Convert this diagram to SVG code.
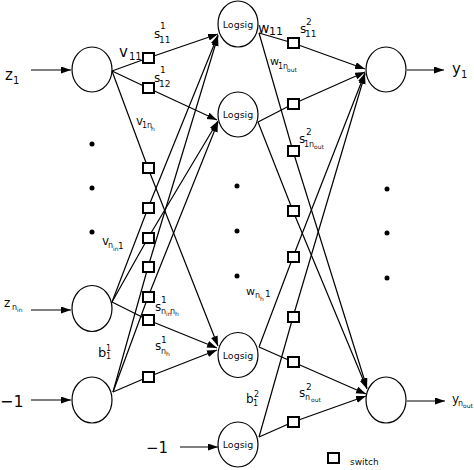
<svg xmlns="http://www.w3.org/2000/svg" width="474" height="470" viewBox="0 0 474 470">
<defs>
<marker id="ah" markerWidth="10" markerHeight="8" refX="10" refY="3.5" orient="auto" markerUnits="userSpaceOnUse">
<path d="M0,0 L10,3.5 L0,7 z" fill="#000"/>
</marker>
<style>
.n{fill:#fff;stroke:#000;stroke-width:1.2}
.c{fill:none;stroke:#000;stroke-width:1.2;marker-end:url(#ah)}
.sw{fill:#fff;stroke:#000;stroke-width:2}
text{font-family:"DejaVu Sans",sans-serif;fill:#000;fill-opacity:0.99}
.lg{font-size:9.5px;text-anchor:middle}
.dot{fill:#000}
</style>
</defs>
<rect width="474" height="470" fill="#fff"/>
<g id="connectors">
<path class="c" d="M112,71 L148,58 L218,34"/>
<path class="c" d="M112,71 L148,88 L217,120"/>
<path class="c" d="M112,71 L148,168 L218,346"/>
<path class="c" d="M112,302 L148,208 L218,35"/>
<path class="c" d="M112,302 L148,238 L218,121"/>
<path class="c" d="M112,302 L148,320 L217,348"/>
<path class="c" d="M113,392 L148,267 L218,36"/>
<path class="c" d="M113,392 L148,297 L218,122"/>
<path class="c" d="M113,392 L148,377 L217,350"/>
<path class="c" d="M259,33 L293,43 L365,69"/>
<path class="c" d="M258,122 L293,104 L365,72"/>
<path class="c" d="M259,33 L293,151 L367,388"/>
<path class="c" d="M258,122 L293,211 L367,389"/>
<path class="c" d="M259,347 L293,257 L365,73"/>
<path class="c" d="M259,437 L293,317 L365,74"/>
<path class="c" d="M259,347 L293,362 L366,394"/>
<path class="c" d="M259,437 L293,422 L366,396"/>
<path class="c" d="M31,70 L71,70"/>
<path class="c" d="M31,310 L71,310"/>
<path class="c" d="M31,400 L71,400"/>
<path class="c" d="M180,447 L218,447"/>
<path class="c" d="M407,70 L444,70"/>
<path class="c" d="M407,401 L445,401"/>
</g>
<g id="switches">
<rect class="sw" x="143" y="53" width="11" height="10"/>
<rect class="sw" x="143" y="83" width="11" height="10"/>
<rect class="sw" x="143" y="163" width="11" height="10"/>
<rect class="sw" x="143" y="203" width="11" height="10"/>
<rect class="sw" x="143" y="233" width="11" height="10"/>
<rect class="sw" x="143" y="262" width="11" height="10"/>
<rect class="sw" x="143" y="292" width="11" height="10"/>
<rect class="sw" x="143" y="315" width="11" height="10"/>
<rect class="sw" x="143" y="372" width="11" height="10"/>
<rect class="sw" x="288" y="38" width="11" height="10"/>
<rect class="sw" x="288" y="99" width="11" height="10"/>
<rect class="sw" x="288" y="146" width="11" height="10"/>
<rect class="sw" x="288" y="206" width="11" height="10"/>
<rect class="sw" x="288" y="252" width="11" height="10"/>
<rect class="sw" x="288" y="312" width="11" height="10"/>
<rect class="sw" x="288" y="357" width="11" height="10"/>
<rect class="sw" x="288" y="417" width="11" height="10"/>
</g>
<g id="in1"><ellipse class="n" cx="92" cy="69.5" rx="20" ry="22.5"/></g>
<g id="in2"><ellipse class="n" cx="92" cy="308.5" rx="20" ry="23"/></g>
<g id="in3"><ellipse class="n" cx="92" cy="400" rx="20" ry="23"/></g>
<g id="h1"><ellipse class="n" cx="238" cy="24" rx="20" ry="23"/><text class="lg" x="238" y="27.5">Logsig</text></g>
<g id="h2"><ellipse class="n" cx="238" cy="114.5" rx="20" ry="22.5"/><text class="lg" x="238" y="118">Logsig</text></g>
<g id="h3"><ellipse class="n" cx="238" cy="355" rx="20" ry="22.5"/><text class="lg" x="238" y="358.5">Logsig</text></g>
<g id="h4"><ellipse class="n" cx="238" cy="444.5" rx="20" ry="22.5"/><text class="lg" x="238" y="448">Logsig</text></g>
<g id="o1"><ellipse class="n" cx="386" cy="69.5" rx="20" ry="22.5"/></g>
<g id="o2"><ellipse class="n" cx="386" cy="400" rx="20" ry="23"/></g>
<g id="dots">
<circle class="dot" cx="92" cy="144" r="2.5"/>
<circle class="dot" cx="92" cy="188" r="2.5"/>
<circle class="dot" cx="92" cy="232" r="2.5"/>
<circle class="dot" cx="237" cy="186" r="2.5"/>
<circle class="dot" cx="237" cy="231" r="2.5"/>
<circle class="dot" cx="237" cy="276" r="2.5"/>
<circle class="dot" cx="387" cy="189" r="2.5"/>
<circle class="dot" cx="387" cy="233" r="2.5"/>
<circle class="dot" cx="387" cy="278" r="2.5"/>
</g>
<g id="labels">
<text x="5" y="80" font-size="15">z</text><text x="13" y="84" font-size="10">1</text>
<text x="4" y="307" font-size="12">z</text><text x="12" y="310" font-size="8">n</text><text x="17" y="312" font-size="6">in</text>
<text x="0" y="407" font-size="16">−1</text>
<text x="146" y="453" font-size="15">−1</text>
<text x="119" y="57" font-size="15">v</text><text x="129" y="60" font-size="10">11</text>
<text x="154" y="38" font-size="12">s</text><text x="160" y="29" font-size="9">1</text><text x="159" y="43" font-size="9">11</text>
<text x="154" y="82" font-size="12">s</text><text x="160" y="73" font-size="9">1</text><text x="159" y="87" font-size="9">12</text>
<text x="136" y="125" font-size="12">v</text><text x="142" y="128" font-size="8">1n</text><text x="151" y="131" font-size="6">h</text>
<text x="102" y="245" font-size="12">v</text><text x="108" y="248" font-size="8">n</text><text x="113" y="251" font-size="6">in</text><text x="118" y="249" font-size="9">1</text>
<text x="155" y="311" font-size="12">s</text><text x="161" y="303" font-size="9">1</text><text x="161" y="314" font-size="8">n</text><text x="166" y="316" font-size="6">in</text><text x="170" y="314" font-size="8">n</text><text x="175" y="316" font-size="6">h</text>
<text x="155" y="350" font-size="12">s</text><text x="161" y="343" font-size="9">1</text><text x="161" y="354" font-size="8">n</text><text x="166" y="356" font-size="6">h</text>
<text x="98" y="357" font-size="13">b</text><text x="106" y="351" font-size="8">1</text><text x="106" y="359" font-size="8">1</text>
<text x="258" y="33" font-size="14">w</text><text x="269" y="35" font-size="11">11</text>
<text x="300" y="33" font-size="12">s</text><text x="306" y="25" font-size="9">2</text><text x="305" y="37" font-size="9">11</text>
<text x="270" y="65" font-size="11">w</text><text x="278" y="69" font-size="8">1n</text><text x="287" y="72" font-size="6">out</text>
<text x="299" y="143" font-size="12">s</text><text x="306" y="135" font-size="9">2</text><text x="304" y="147" font-size="8">1n</text><text x="314" y="149" font-size="6">out</text>
<text x="246" y="295" font-size="11">w</text><text x="255" y="298" font-size="8">n</text><text x="260" y="301" font-size="6">h</text><text x="265" y="297" font-size="9">1</text>
<text x="246" y="403" font-size="12">b</text><text x="254" y="397" font-size="8">2</text><text x="253" y="406" font-size="8">1</text>
<text x="299" y="397" font-size="12">s</text><text x="306" y="390" font-size="9">2</text><text x="305" y="400" font-size="8">n</text><text x="311" y="402" font-size="6">out</text>
<text x="452" y="74" font-size="15">y</text><text x="461" y="78" font-size="10">1</text>
<text x="452" y="403" font-size="12">y</text><text x="458" y="406" font-size="8">n</text><text x="463" y="408" font-size="6">out</text>
</g>
<g id="legend">
<rect class="sw" x="328" y="453" width="11" height="10"/>
<text x="350" y="465" font-size="9">switch</text>
</g>
</svg>
